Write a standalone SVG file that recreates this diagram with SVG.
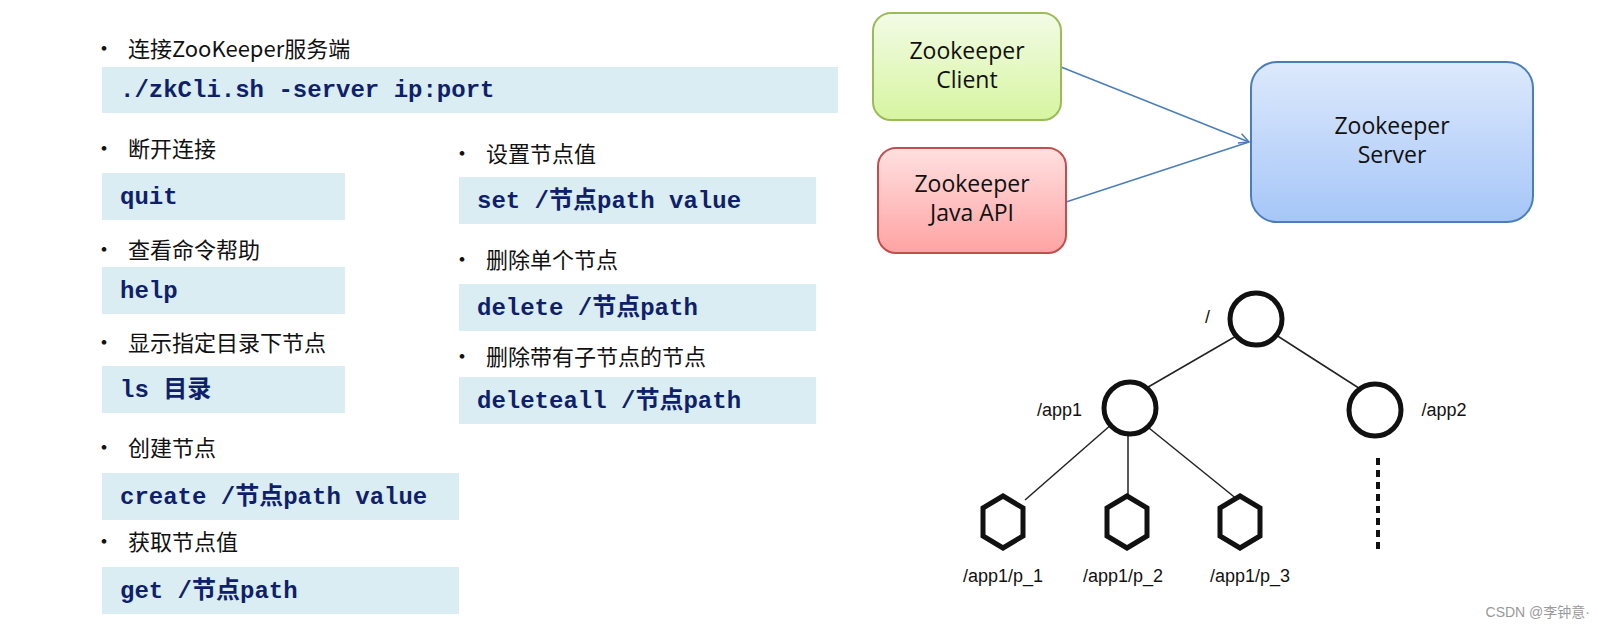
<svg xmlns="http://www.w3.org/2000/svg" width="1598" height="642" viewBox="0 0 1598 642">
<defs>
<linearGradient id="gG" x1="0" y1="0" x2="0" y2="1"><stop offset="0" stop-color="#f3fbe6"/><stop offset="1" stop-color="#d6f5a0"/></linearGradient>
<linearGradient id="gR" x1="0" y1="0" x2="0" y2="1"><stop offset="0" stop-color="#ffe0e0"/><stop offset="1" stop-color="#ffa3a3"/></linearGradient>
<linearGradient id="gB" x1="0" y1="0" x2="0" y2="1"><stop offset="0" stop-color="#dde9fc"/><stop offset="1" stop-color="#a6c6f8"/></linearGradient>
<marker id="arr" viewBox="0 0 12 12" refX="11" refY="6" markerWidth="12" markerHeight="12" markerUnits="userSpaceOnUse" orient="auto"><path d="M1,1 L11,6 L1,11" fill="none" stroke="#4a7ebb" stroke-width="1.5"/></marker>
<style>
.b{font-family:"Noto Sans CJK SC",sans-serif;font-size:22px;fill:#111}
.c{font-family:"Liberation Mono","Noto Sans CJK SC",monospace;font-size:24px;font-weight:bold;fill:#0f1f6b}
.box{fill:#daedf3}
.n{font-family:"Open Sans","Noto Sans",sans-serif;font-size:23px;fill:#111;text-anchor:middle}
.t{font-family:"Liberation Sans",Arial,sans-serif;font-size:18px;fill:#111}
.cir{fill:#fff;stroke:#111;stroke-width:5}
.tl{stroke:#222;stroke-width:1.5}
</style>
</defs>
<g id="cmds">
<text class="b" x="93" y="56">•</text><text class="b" x="128" y="57">连接ZooKeeper服务端</text>
<rect class="box" x="102" y="67" width="736" height="46"/><text class="c" x="120" y="97">./zkCli.sh -server ip:port</text>
<text class="b" x="93" y="156">•</text><text class="b" x="128" y="157">断开连接</text>
<rect class="box" x="102" y="173" width="243" height="47"/><text class="c" x="120" y="204">quit</text>
<text class="b" x="93" y="257">•</text><text class="b" x="128" y="258">查看命令帮助</text>
<rect class="box" x="102" y="267" width="243" height="47"/><text class="c" x="120" y="298">help</text>
<text class="b" x="93" y="350">•</text><text class="b" x="128" y="351">显示指定目录下节点</text>
<rect class="box" x="102" y="366" width="243" height="47"/><text class="c" x="120" y="397">ls 目录</text>
<text class="b" x="93" y="455">•</text><text class="b" x="128" y="456">创建节点</text>
<rect class="box" x="102" y="473" width="357" height="47"/><text class="c" x="120" y="504">create /节点path value</text>
<text class="b" x="93" y="549">•</text><text class="b" x="128" y="550">获取节点值</text>
<rect class="box" x="102" y="567" width="357" height="47"/><text class="c" x="120" y="598">get /节点path</text>
<text class="b" x="451" y="161">•</text><text class="b" x="486" y="162">设置节点值</text>
<rect class="box" x="459" y="177" width="357" height="47"/><text class="c" x="477" y="208">set /节点path value</text>
<text class="b" x="451" y="267">•</text><text class="b" x="486" y="268">删除单个节点</text>
<rect class="box" x="459" y="284" width="357" height="47"/><text class="c" x="477" y="315">delete /节点path</text>
<text class="b" x="451" y="364">•</text><text class="b" x="486" y="365">删除带有子节点的节点</text>
<rect class="box" x="459" y="377" width="357" height="47"/><text class="c" x="477" y="408">deleteall /节点path</text>
</g>
<g id="connectors">
<line x1="1061" y1="67" x2="1249" y2="142" stroke="#4a7ebb" stroke-width="1.5" marker-end="url(#arr)"/>
<line x1="1066" y1="202" x2="1249" y2="142" stroke="#4a7ebb" stroke-width="1.5"/>
<line class="tl" x1="1238" y1="335" x2="1143" y2="390"/>
<line class="tl" x1="1276" y1="335" x2="1365" y2="392"/>
<line class="tl" x1="1112" y1="424" x2="1025" y2="500"/>
<line class="tl" x1="1128" y1="435" x2="1128" y2="497"/>
<line class="tl" x1="1144" y1="424" x2="1238" y2="500"/>
<line x1="1378" y1="458" x2="1378" y2="552" stroke="#111" stroke-width="4" stroke-dasharray="7,5"/>
</g>
<g id="client"><rect x="873" y="13" width="188" height="107" rx="18" fill="url(#gG)" stroke="#9bbb59" stroke-width="2"/><text class="n" x="967" y="59">Zookeeper</text><text class="n" x="967" y="88">Client</text></g>
<g id="javaapi"><rect x="878" y="148" width="188" height="105" rx="18" fill="url(#gR)" stroke="#c0504d" stroke-width="2"/><text class="n" x="972" y="192">Zookeeper</text><text class="n" x="972" y="221">Java API</text></g>
<g id="server"><rect x="1251" y="62" width="282" height="160" rx="26" fill="url(#gB)" stroke="#4a7ebb" stroke-width="2"/><text class="n" x="1392" y="134">Zookeeper</text><text class="n" x="1392" y="163">Server</text></g>
<g id="root"><circle class="cir" cx="1256" cy="319" r="26"/><text class="t" x="1205" y="323">/</text></g>
<g id="app1"><circle class="cir" cx="1130" cy="408" r="26"/><text class="t" x="1037" y="416">/app1</text></g>
<g id="app2"><circle class="cir" cx="1375" cy="410" r="26"/><text class="t" x="1444" y="416" text-anchor="middle">/app2</text></g>
<g id="p1"><polygon class="cir" points="1003,496 1023,508 1023,536 1003,548 983,536 983,508"/><text class="t" x="1003" y="582" text-anchor="middle">/app1/p_1</text></g>
<g id="p2"><polygon class="cir" points="1127,496 1147,508 1147,536 1127,548 1107,536 1107,508"/><text class="t" x="1123" y="582" text-anchor="middle">/app1/p_2</text></g>
<g id="p3"><polygon class="cir" points="1240,496 1260,508 1260,536 1240,548 1220,536 1220,508"/><text class="t" x="1250" y="582" text-anchor="middle">/app1/p_3</text></g>
<text x="1590" y="617" text-anchor="end" font-family="Liberation Sans,Noto Sans CJK SC,sans-serif" font-size="14" fill="#999">CSDN @李钟意·</text>
</svg>
